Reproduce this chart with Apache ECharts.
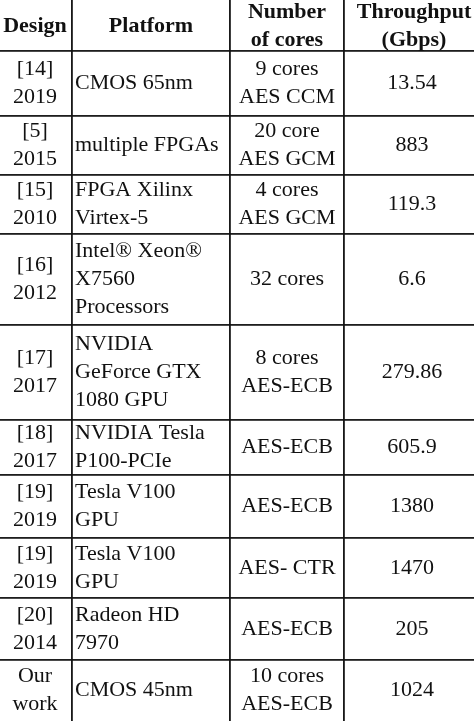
<!DOCTYPE html>
<html><head><meta charset="utf-8">
<script src="https://cdn.jsdelivr.net/npm/echarts@6/dist/echarts.min.js"></script>
<style>html,body{margin:0;padding:0;background:#fff}#c{width:474px;height:721px}</style>
</head><body><div id="c"></div>
<script>
const headers = ["Design", "Platform", "Number\nof cores", "Throughput\n(Gbps)"];
const designs = ["[14]\n2019","[5]\n2015","[15]\n2010","[16]\n2012","[17]\n2017","[18]\n2017","[19]\n2019","[19]\n2019","[20]\n2014","Our\nwork"];
const platforms = ["CMOS 65nm","multiple FPGAs","FPGA Xilinx\nVirtex-5","Intel® Xeon®\nX7560\nProcessors","NVIDIA\nGeForce GTX\n1080 GPU","NVIDIA Tesla\nP100-PCIe","Tesla V100\nGPU","Tesla V100\nGPU","Radeon HD\n7970","CMOS 45nm"];
const cores = ["9 cores\nAES CCM","20 core\nAES GCM","4 cores\nAES GCM","32 cores","8 cores\nAES-ECB","AES-ECB","AES-ECB","AES- CTR","AES-ECB","10 cores\nAES-ECB"];
const throughput = ["13.54","883","119.3","6.6","279.86","605.9","1380","1470","205","1024"];

// layout
const colEdges = [-2, 72, 230, 344, 480];
const rowEdges = [-8, 51, 116, 175, 234, 325, 420, 475, 538, 598, 660, 724];

const cells = [];
headers.forEach((h, c) => cells.push([c, 0, h, 1]));
const cols = [designs, platforms, cores, throughput];
for (let r = 0; r < designs.length; r++) {
  cols.forEach((arr, c) => cells.push([c, r + 1, arr[r], 0]));
}

const chart = echarts.init(document.getElementById('c'), null, {renderer: 'canvas'});
chart.setOption({
  animation: false,
  grid: {left: 0, right: 0, top: 0, bottom: 0},
  xAxis: {type: 'value', min: 0, max: 474, show: false},
  yAxis: {type: 'value', min: 0, max: 721, inverse: true, show: false},
  series: [{
    type: 'custom',
    data: cells,
    renderItem: function (params, api) {
      const c = api.value(0), r = api.value(1);
      const text = cells[params.dataIndex][2];
      const bold = cells[params.dataIndex][3] === 1;
      const p0 = api.coord([colEdges[c], rowEdges[r]]);
      const p1 = api.coord([colEdges[c + 1], rowEdges[r + 1]]);
      const left = (c === 1 && !bold);
      const top = r === 0 ? 0 : p0[1];
      const cy = (Math.max(top, 0) + Math.min(p1[1], 721)) / 2;
      return {
        type: 'group',
        children: [
          {type: 'rect', shape: {x: p0[0], y: p0[1], width: p1[0] - p0[0], height: p1[1] - p0[1]},
           style: {fill: '#fff', stroke: '#111', lineWidth: 1.6}},
          {type: 'text', x: left ? p0[0] + 3 : (p0[0] + p1[0]) / 2 + (c === 3 && r === 0 ? 2 : 0), y: r === 0 ? 26 : cy,
           style: {text: text, fill: '#111', align: left ? 'left' : 'center', verticalAlign: 'middle',
             font: (bold ? 'bold ' : '') + '22px "Liberation Serif", "DejaVu Serif", serif', lineHeight: 28}}
        ]
      };
    }
  }]
});
</script></body></html>
